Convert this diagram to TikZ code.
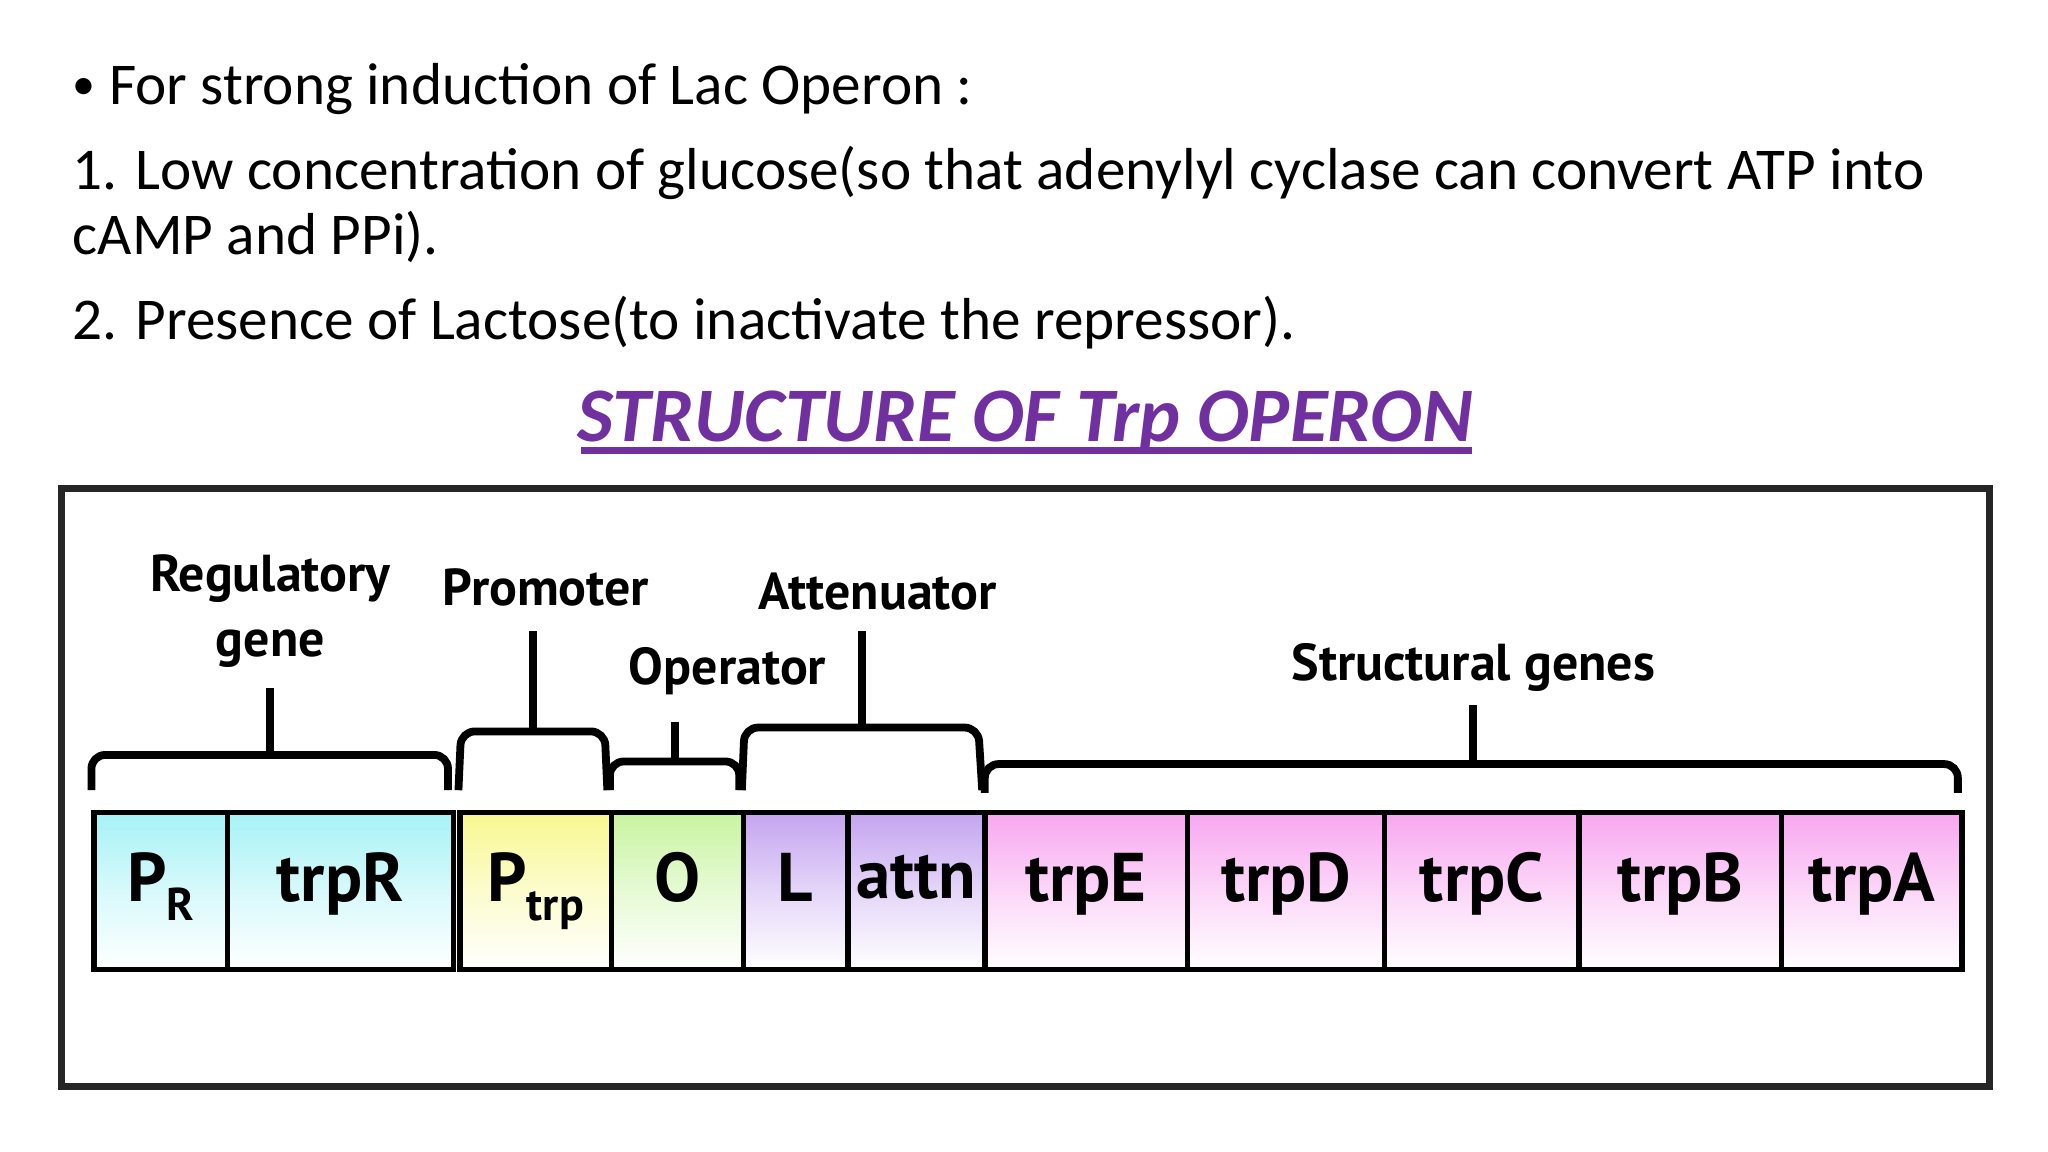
\documentclass[tikz,border=0pt]{standalone}
\usepackage{fontspec}
\setmainfont{Carlito}
\newfontfamily\genefont{PT Sans}
\definecolor{titlepurple}{HTML}{7030A0}
\definecolor{regcol}{HTML}{A6F2F6}
\definecolor{procol}{HTML}{F8F890}
\definecolor{opcol}{HTML}{C8F4A0}
\definecolor{attcol}{HTML}{C4A4F0}
\definecolor{strcol}{HTML}{F8A6F0}
\tikzset{
  cell/.style={draw, line width=1.2pt, anchor=north west, minimum height=1.2cm,
    inner sep=0pt, font=\genefont\bfseries\fontsize{15}{15}\selectfont},
  brk/.style={line width=1.7pt, rounded corners=3pt},
  brklabel/.style={font=\genefont\bfseries\fontsize{11.3}{12}\selectfont, inner sep=0pt},
  bodytext/.style={font=\fontsize{12.9}{15}\selectfont, anchor=base west, inner sep=0pt}
}
\newcommand{\lowsub}[1]{\raisebox{-4pt}{\fontsize{10}{10}\selectfont #1}}
\begin{document}
\begin{tikzpicture}[x=0.01cm,y=-0.01cm]
    \useasboundingbox (0,0) rectangle (1568,882);

    % Text lines
    \node[bodytext] (bul) at (55,80) {\raisebox{1pt}{\fontsize{10}{10}\selectfont\textbullet}\ For strong induction of Lac Operon :};
    \node[bodytext] (one) at (55,145) {1. Low concentration of glucose(so that adenylyl cyclase can convert ATP into};
    \node[bodytext] (onb) at (55,195) {cAMP and PPi).};
    \node[bodytext] (two) at (55,260) {2. Presence of Lactose(to inactivate the repressor).};
    \node[anchor=base, inner sep=0pt, text=titlepurple, font=\fontsize{16.8}{20}\selectfont\bfseries\itshape] (title) at (785,338) {STRUCTURE OF Trp OPERON};
    \draw[titlepurple, line width=1.4pt] (445,345) -- (1127,345);

    % Frame
    \draw[line width=1.6pt, black!85] (47,374) rectangle (1523,832);

    % Gene cells
    \foreach \name/\xa/\xb/\col/\txt in {pr/70/172/regcol/P\lowsub{R},
        trpr/172/345/regcol/trpR, ptrp/350/466/procol/P\lowsub{trp},
        op/466/567/opcol/O, lead/567/647/attcol/L, attn/647/752/attcol/attn,
        trpe/752/907/strcol/trpE, trpd/907/1058/strcol/trpD, trpc/1058/1207/strcol/trpC,
        trpb/1207/1362/strcol/trpB, trpa/1362/1500/strcol/trpA} {
      \pgfmathsetmacro{\w}{(\xb-\xa)*0.01}
      \node[cell, minimum width=\w cm, top color=\col, bottom color=white,
            middle color=\col!45] (\name) at (\xa,620) {\raisebox{6pt}{\txt}};
    }

    % Regulatory gene
    \draw[brk] (70,605) -- (70,578) -- (343,578) -- (343,605);
    \draw[line width=1.7pt] (207,578) -- (207,527);
    \node[brklabel] (reg) at (207,443) {Regulatory};
    \node[brklabel] (regb) at (207,497) {gene};

    % Promoter
    \draw[brk] (351,605) -- (353,560) -- (463,560) -- (465,605);
    \draw[line width=1.7pt] (408,560) -- (408,483);
    \node[brklabel] (prom) at (418,450) {Promoter};

    % Operator
    \draw[brk] (467,605) -- (467,583) -- (566,583) -- (566,605);
    \draw[line width=1.7pt] (517,583) -- (517,553);
    \node[brklabel] (oper) at (557,514) {Operator};

    % Attenuator
    \draw[brk] (568,605) -- (570,557) -- (749,557) -- (752,605);
    \draw[line width=1.7pt] (660,557) -- (660,483);
    \node[brklabel] (atten) at (672,453) {Attenuator};

    % Structural genes
    \draw[brk] (754,607) -- (754,585) -- (1499,585) -- (1499,607);
    \draw[line width=1.7pt] (1128,585) -- (1128,540);
    \node[brklabel] (struct) at (1128,511) {Structural genes};
\end{tikzpicture}
\end{document}
